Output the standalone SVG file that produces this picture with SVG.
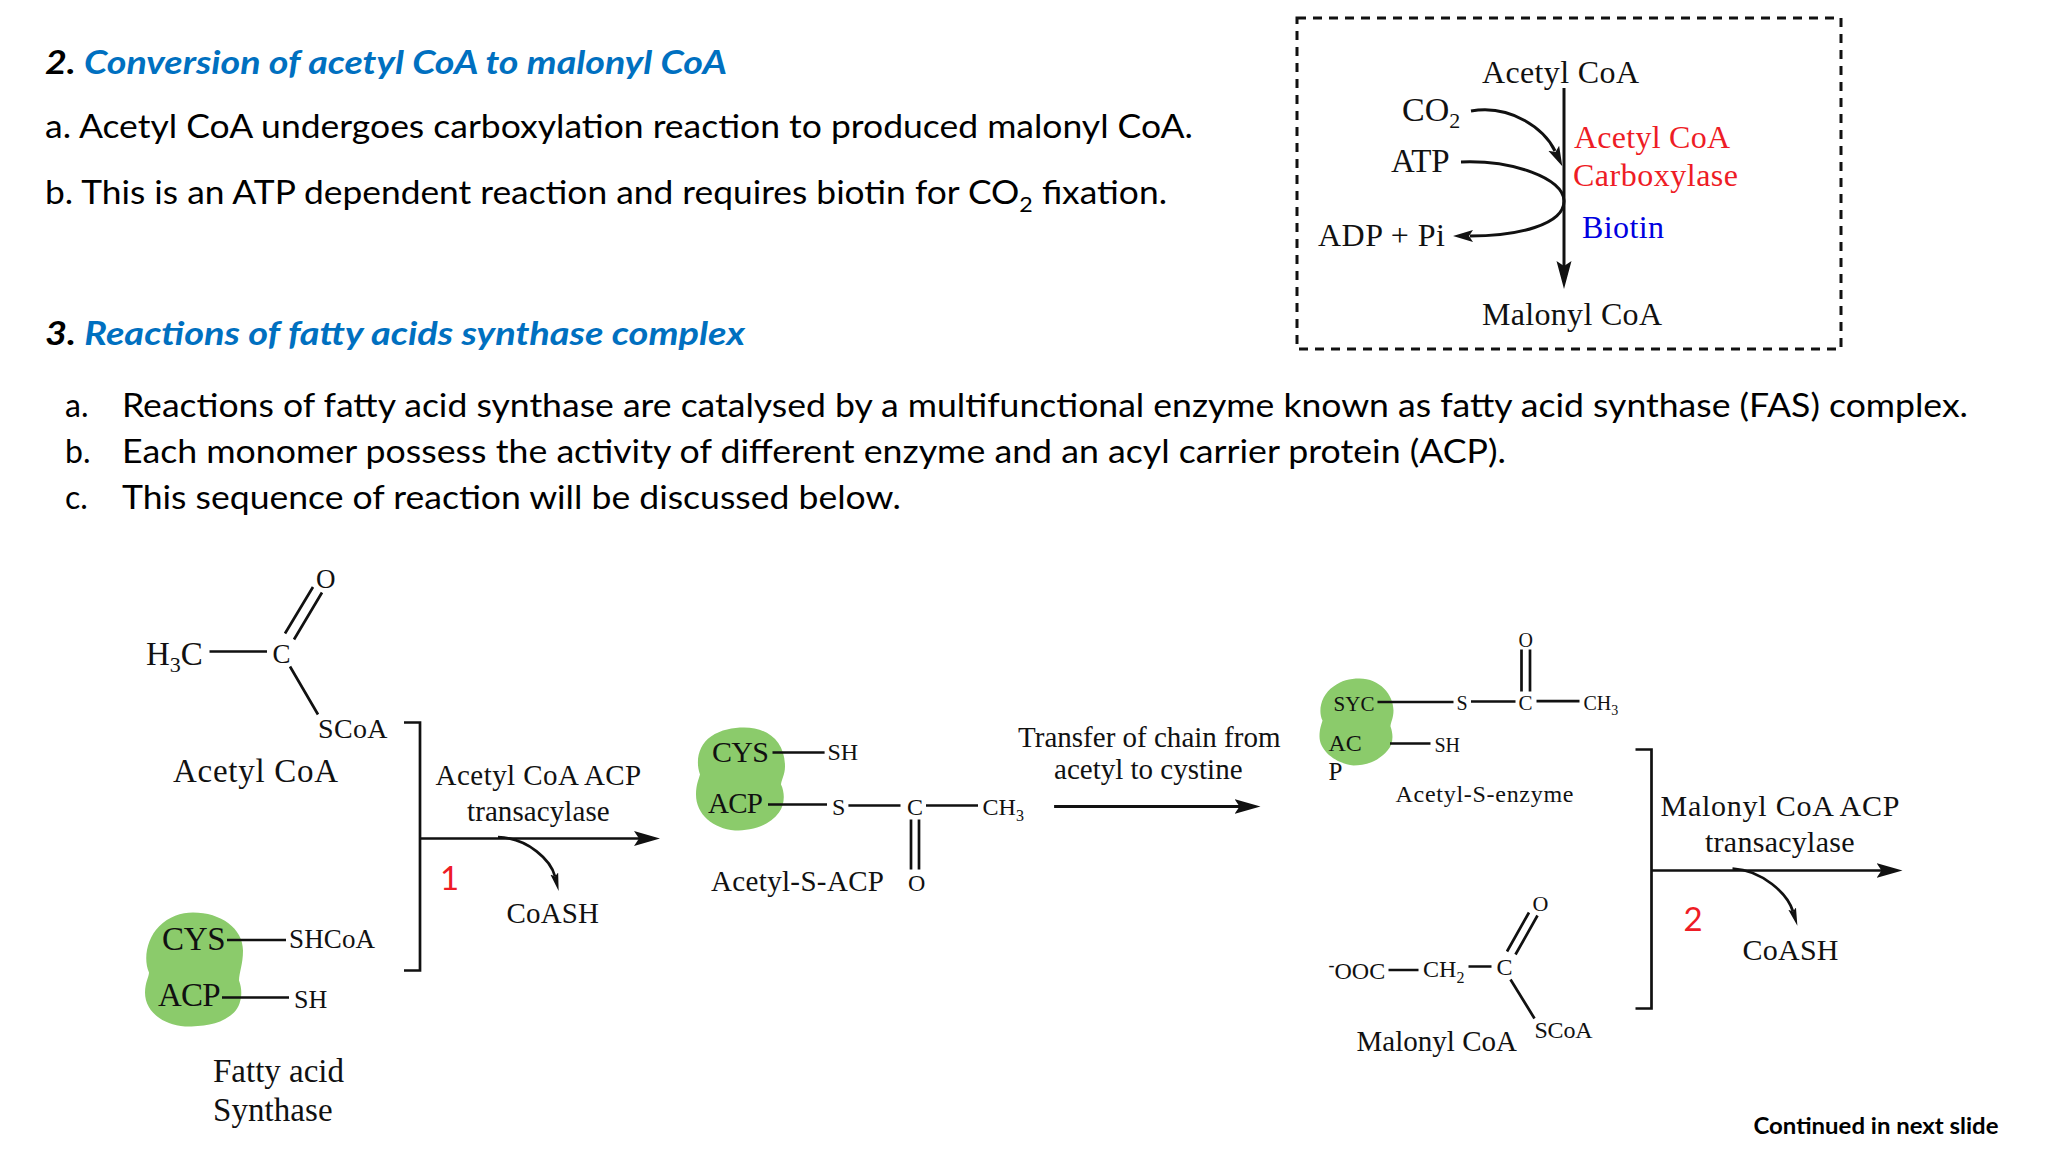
<svg xmlns="http://www.w3.org/2000/svg" width="2048" height="1152" viewBox="0 0 2048 1152">
<style>
text{font-family:"Liberation Serif","Times New Roman",serif;fill:#111}
.s{font-family:Lato,"Open Sans",sans-serif;font-size:32px;fill:#000}
.h{font-weight:700;font-style:italic;fill:#0070c0}
.k{font-weight:700;font-style:italic;fill:#000}
.n{font-family:Lato,"Open Sans",sans-serif;font-size:33px;fill:#ee1c25}
.b{stroke:#111;stroke-width:2.7;fill:none}
.a{stroke:#111;stroke-width:3;fill:none}
.blob{fill:#8bcb6b}
</style>
<defs>
<marker id="lg" markerUnits="userSpaceOnUse" markerWidth="30" markerHeight="20" refX="6" refY="10" orient="auto"><path d="M0,2.500 L26,10 L0,17.500 L5,10Z" fill="#111"/></marker>
<marker id="tall" markerUnits="userSpaceOnUse" markerWidth="32" markerHeight="20" refX="6" refY="10" orient="auto"><path d="M0,2.500 L28,10 L0,17.500 L5,10Z" fill="#111"/></marker>
<marker id="sm" markerUnits="userSpaceOnUse" markerWidth="22" markerHeight="12" refX="3" refY="6" orient="auto"><path d="M0,2 L18,6 L0,10 L3,6Z" fill="#111"/></marker>
<marker id="cv" markerUnits="userSpaceOnUse" markerWidth="24" markerHeight="16" refX="3" refY="8" orient="auto"><path d="M0,2 L20,8 L0,14 L4,8Z" fill="#111"/></marker>
</defs>
<rect width="2048" height="1152" fill="#fff"/>

<g id="heading-2">
<text class="s" x="45" y="74" textLength="682" lengthAdjust="spacingAndGlyphs"><tspan class="k">2. </tspan><tspan class="h">Conversion of acetyl CoA to malonyl CoA</tspan></text>
<text class="s" x="45" y="138" textLength="1148" lengthAdjust="spacingAndGlyphs">a. Acetyl CoA undergoes carboxylation reaction to produced malonyl CoA.</text>
<text class="s" x="45" y="204" textLength="1122" lengthAdjust="spacingAndGlyphs">b. This is an ATP dependent reaction and requires biotin for CO<tspan dy="8" font-size="21">2</tspan><tspan dy="-8"> fixation.</tspan></text>
</g>
<g id="heading-3">
<text class="s" x="45" y="345" textLength="700" lengthAdjust="spacingAndGlyphs"><tspan class="k">3. </tspan><tspan class="h">Reactions of fatty acids synthase complex</tspan></text>
<text class="s" x="65" y="417">a.</text>
<text class="s" x="122" y="417" textLength="1846" lengthAdjust="spacingAndGlyphs">Reactions of fatty acid synthase are catalysed by a multifunctional enzyme known as fatty acid synthase (FAS) complex.</text>
<text class="s" x="65" y="463">b.</text>
<text class="s" x="122" y="463" textLength="1384" lengthAdjust="spacingAndGlyphs">Each monomer possess the activity of different enzyme and an acyl carrier protein (ACP).</text>
<text class="s" x="65" y="509">c.</text>
<text class="s" x="122" y="509" textLength="779" lengthAdjust="spacingAndGlyphs">This sequence of reaction will be discussed below.</text>
</g>

<g id="inset">
<rect x="1297" y="18" width="544" height="331" fill="none" stroke="#111" stroke-width="3" stroke-dasharray="9 7"/>
<text x="1482" y="83" font-size="32" textLength="157">Acetyl CoA</text>
<text x="1402" y="121" font-size="34">CO<tspan dy="7" font-size="22">2</tspan></text>
<text x="1391" y="172" font-size="33">ATP</text>
<text x="1318" y="246" font-size="32" textLength="127">ADP + Pi</text>
<text x="1574" y="148" font-size="32" textLength="156" style="fill:#ee1c25">Acetyl CoA</text>
<text x="1573" y="186" font-size="32" textLength="165" style="fill:#ee1c25">Carboxylase</text>
<text x="1582" y="238" font-size="32" textLength="82" style="fill:#0000e0">Biotin</text>
<text x="1482" y="325" font-size="32" textLength="180">Malonyl CoA</text>
</g>

<g transform="translate(-1,-1.500)">
<g id="acetyl-coa">
<text x="317" y="589" font-size="27">O</text>
<path class="b" d="M286,635 L314,588.500 M295,641 L323,594 M210.500,653 H268 M291,668 L319,716"/>
<text x="147" y="666" font-size="33">H<tspan dy="7" font-size="22">3</tspan><tspan dy="-7">C</tspan></text>
<text x="273.500" y="664" font-size="27">C</text>
<text x="319" y="739" font-size="28" textLength="69.500">SCoA</text>
<text x="174" y="783" font-size="33" textLength="165">Acetyl CoA</text>
</g>

<g id="fatty-acid-synthase">
<path class="blob" d="M194,914 C222,914 244,930 244,952 C244,966 240,974 240,982 C244,992 243,1006 235,1014 C222,1026 206,1028 186,1028 C162,1026 146,1012 146,994 C146,984 150,978 150,974 C144,960 148,940 160,928 C170,918 182,914 194,914Z"/>
<text x="163" y="951" font-size="33" textLength="63.600">CYS</text>
<text x="159" y="1007" font-size="33" textLength="62.600">ACP</text>
<path class="b" d="M228,941.500 H287 M223,999 H290"/>
<text x="290" y="949" font-size="27" textLength="86">SHCoA</text>
<text x="295" y="1009" font-size="26">SH</text>
<text x="214" y="1083" font-size="33" textLength="131">Fatty acid</text>
<text x="214" y="1122" font-size="33" textLength="119.600">Synthase</text>
</g>

<g id="step-1-labels">
<text x="436.600" y="786.500" font-size="29" textLength="205.600">Acetyl CoA ACP</text>
<text x="468" y="822" font-size="29" textLength="142.700">transacylase</text>
<text x="507.600" y="924" font-size="29" textLength="92.400">CoASH</text>
<text class="n" x="441" y="891">1</text>
</g>

<g id="acetyl-s-acp">
<path class="blob" d="M745,729 C770,729 786,744 786,768 C786,776 782,782 782,786 C786,794 786,806 780,814 C770,828 752,832 736,832 C714,830 697,816 697,796 C697,786 700,780 701,776 C696,762 700,746 712,738 C722,731 734,729 745,729Z"/>
<text x="713" y="763" font-size="30" textLength="57">CYS</text>
<text x="709" y="814" font-size="29" textLength="55">ACP</text>
<path class="b" d="M773.500,754 H825.600 M769,806 H828 M849.400,807 H901.500 M927,807 H979 M912,821 V871 M920,821 V871"/>
<text x="828.500" y="761" font-size="24">SH</text>
<text x="833" y="816" font-size="24">S</text>
<text x="908" y="816" font-size="24">C</text>
<text x="983.600" y="816" font-size="24">CH<tspan dy="6" font-size="16">3</tspan></text>
<text x="909" y="892" font-size="24">O</text>
<text x="712" y="892" font-size="29" textLength="173">Acetyl-S-ACP</text>
</g>
</g>

<g transform="translate(-2.500,-1.500)">
<g id="transfer-label">
<text x="1020.500" y="748" font-size="29" textLength="262.500">Transfer of chain from</text>
<text x="1056.600" y="780" font-size="29" textLength="188.400">acetyl to cystine</text>
</g>

<g id="acetyl-s-enzyme">
<path class="blob" d="M1362,680 C1382,680 1396,696 1396,712 C1396,720 1393,724 1393,728 C1396,736 1396,746 1390,752 C1380,764 1366,767 1356,767 C1338,765 1322,752 1322,738 C1322,730 1324,726 1325,722 C1320,712 1324,696 1336,688 C1344,682 1352,680 1362,680Z"/>
<text x="1336" y="712" font-size="21" textLength="41">SYC</text>
<text x="1331" y="752" font-size="24">AC</text>
<text x="1331" y="781" font-size="25">P</text>
<path class="b" d="M1380,703.500 H1456 M1473.500,703 H1518 M1539,702.600 H1582 M1524,651 V693 M1532.500,651 V693 M1392.500,745 H1433"/>
<text x="1459" y="711" font-size="20">S</text>
<text x="1521" y="711" font-size="21">C</text>
<text x="1586" y="711" font-size="20">CH<tspan dy="5" font-size="14">3</tspan></text>
<text x="1521" y="648" font-size="20">O</text>
<text x="1437" y="753" font-size="20">SH</text>
<text x="1398" y="803.600" font-size="24" textLength="178">Acetyl-S-enzyme</text>
</g>

<g id="malonyl-coa">
<text x="1535" y="912" font-size="22">O</text>
<path class="b" d="M1509.500,953 L1531.500,914 M1518,956 L1540,917 M1391,971.500 H1421 M1471,968 H1494 M1513,981 L1537,1020"/>
<text x="1331" y="980" font-size="24"><tspan dy="-8" font-size="18">-</tspan><tspan dy="8">OOC</tspan></text>
<text x="1425.600" y="978" font-size="24">CH<tspan dy="6" font-size="16">2</tspan></text>
<text x="1499" y="976" font-size="24">C</text>
<text x="1537" y="1039" font-size="24" textLength="58">SCoA</text>
<text x="1359" y="1052" font-size="29" textLength="160.500">Malonyl CoA</text>
</g>

<g id="step-2-labels">
<text x="1663" y="817" font-size="30" textLength="239">Malonyl CoA ACP</text>
<text x="1707.500" y="853" font-size="30" textLength="149.500">transacylase</text>
<text x="1745" y="961" font-size="30" textLength="96">CoASH</text>
<text class="n" x="1686" y="932">2</text>
</g>

<g id="footer">
<text x="1756" y="1135" textLength="245" lengthAdjust="spacingAndGlyphs" style="font-family:Lato,'Open Sans',sans-serif;font-size:22px;font-weight:700;fill:#000">Continued in next slide</text>
</g>
</g>

<g id="connectors">
<path class="a" d="M1564,88 V267" marker-end="url(#tall)"/>
<path class="a" d="M1471,111 C1512,104 1545,130 1555,151" marker-end="url(#cv)"/>
<path class="a" d="M1461,162 C1512,160 1564,178 1564,201 C1564,225 1517,236 1470,236" marker-end="url(#cv)"/>
<g transform="translate(-1,-1.500)">
<path class="b" d="M405,724 H421 V972 H405 M421,840 H641" marker-end="url(#lg)"/>
<path class="b" d="M499,838.500 C530,840 552,862 556,878" marker-end="url(#sm)"/>
</g>
<g transform="translate(-2.500,-1.500)">
<path class="a" d="M1056.600,808 H1243" marker-end="url(#lg)"/>
<path class="b" d="M1638,751 H1654 V1010 H1638 M1654,872 H1885" marker-end="url(#lg)"/>
<path class="b" d="M1735,870 C1765,872 1790,895 1795.500,913" marker-end="url(#sm)"/>
</g>
</g>
</svg>
